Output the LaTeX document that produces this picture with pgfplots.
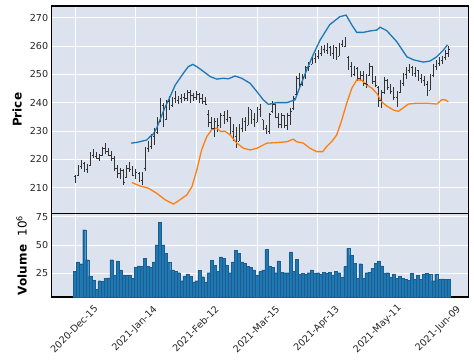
\documentclass[border=0pt]{standalone}
\usepackage{pgfplots}
\pgfplotsset{compat=1.18}
\usepackage{pgfplotstable}
\usepackage{fontspec}
\setmainfont{DejaVu Sans}
\definecolor{bgc}{HTML}{DCE3EF}
\definecolor{mblue}{HTML}{1F77B4}
\definecolor{morange}{HTML}{FF7F0E}
\definecolor{voledge}{HTML}{1A5E8E}
\pgfdeclareplotmark{otick}{\pgfpathmoveto{\pgfqpoint{-\pgfplotmarksize}{0pt}}\pgfpathlineto{\pgfqpoint{0pt}{0pt}}\pgfusepathqstroke}
\pgfdeclareplotmark{ctick}{\pgfpathmoveto{\pgfqpoint{0pt}{0pt}}\pgfpathlineto{\pgfqpoint{\pgfplotmarksize}{0pt}}\pgfusepathqstroke}

\pgfplotstableread{
i o h l c
0 214.0 214.5 211.5 212.5
1 214.5 218.0 214.0 217.5
2 217.5 219.8 216.5 218.5
3 218.5 219.0 215.5 216.5
4 216.5 218.5 215.0 218.0
5 218.0 222.5 217.5 222.0
6 221.5 223.5 220.5 221.0
7 221.0 222.5 220.0 220.5
8 220.5 222.0 219.5 221.5
9 221.5 224.5 221.0 224.0
10 224.0 225.8 222.0 223.0
11 223.0 224.0 221.0 221.5
12 221.5 223.0 219.5 220.5
13 220.5 221.0 216.0 217.0
14 217.0 218.0 213.5 215.0
15 215.0 217.0 213.0 216.0
16 216.0 216.5 211.0 212.0
17 213.5 218.0 213.5 217.0
18 217.0 219.0 215.5 216.5
19 216.5 217.5 214.0 214.5
20 214.5 216.5 213.0 215.5
21 215.0 215.5 212.0 212.5
22 212.5 215.5 211.0 215.0
23 217.0 224.5 216.0 224.0
24 224.0 226.5 222.5 224.5
25 224.5 229.0 223.5 228.0
26 228.0 231.0 225.0 229.5
27 229.5 235.0 229.0 233.5
28 233.5 241.5 233.0 239.0
29 239.0 240.0 231.5 234.0
30 234.0 241.0 234.0 240.5
31 240.5 242.5 237.5 239.0
32 239.0 242.0 238.5 241.5
33 241.5 244.0 240.0 241.0
34 241.0 242.5 239.5 241.5
35 241.5 243.0 240.0 242.0
36 242.0 243.5 240.5 241.5
37 241.5 244.5 240.5 243.5
38 243.5 244.5 240.0 242.5
39 242.5 243.5 240.5 242.0
40 242.0 244.0 241.0 243.0
41 243.0 243.5 240.0 241.5
42 241.5 243.0 239.5 240.5
43 240.5 242.0 239.0 239.5
44 236.0 237.5 231.5 233.0
45 233.0 235.0 230.0 231.0
46 231.0 234.5 228.0 233.5
47 233.5 234.5 229.5 232.0
48 232.0 236.5 231.0 235.5
49 235.5 237.0 232.5 234.0
50 234.0 237.5 233.0 236.5
51 235.0 235.0 228.5 230.0
52 230.0 232.5 226.5 228.0
53 228.0 231.5 224.0 226.5
54 226.5 232.5 226.5 231.0
55 231.0 234.5 229.5 233.5
56 233.5 235.0 230.0 232.0
57 232.0 238.5 233.0 237.5
58 237.5 237.5 232.5 234.0
59 234.0 236.5 231.5 233.0
60 233.0 238.5 233.5 237.5
61 237.5 239.5 235.0 236.0
62 234.0 234.0 230.5 231.0
63 231.0 232.0 229.0 230.0
64 230.0 236.5 229.0 236.0
65 237.0 240.5 236.5 239.5
66 239.5 239.5 234.5 235.0
67 235.0 236.5 231.0 232.5
68 232.5 236.5 231.0 235.5
69 235.5 235.5 231.0 232.0
70 232.0 236.5 230.5 235.5
71 235.5 238.0 232.0 237.0
72 238.0 242.5 237.5 241.5
73 243.0 249.5 242.5 248.5
74 248.5 250.5 245.5 246.5
75 246.5 250.0 246.0 249.0
76 249.0 253.0 248.5 252.5
77 252.5 254.5 251.0 253.0
78 253.5 256.5 253.5 255.5
79 255.5 257.5 254.0 256.5
80 256.5 258.5 255.5 257.5
81 257.5 260.0 256.5 259.0
82 259.0 260.5 257.5 258.5
83 258.5 261.0 257.0 259.5
84 259.5 260.0 256.5 257.5
85 257.5 260.5 255.5 259.5
86 259.5 259.5 255.0 256.0
87 256.5 261.0 256.5 260.5
88 260.5 262.0 259.5 260.0
89 260.0 263.0 259.5 262.5
90 256.0 256.5 251.5 253.0
91 253.0 254.5 249.0 250.0
92 250.0 253.0 249.5 252.0
93 252.0 252.5 247.5 248.5
94 248.5 251.0 248.0 249.5
95 249.5 251.0 246.0 247.0
96 247.0 250.0 245.0 246.5
97 249.5 254.0 249.5 253.0
98 253.0 253.0 246.5 247.5
99 247.5 249.5 245.5 246.0
100 245.5 246.0 238.5 241.0
101 241.0 244.5 238.0 243.5
102 243.5 249.0 243.0 248.0
103 248.0 248.5 244.5 245.5
104 245.5 246.5 243.0 244.0
105 244.0 245.5 241.0 242.0
106 242.0 244.0 238.5 243.5
107 243.5 248.0 243.5 247.0
108 247.0 250.5 246.0 250.0
109 250.0 252.5 248.5 251.5
110 251.5 253.5 250.5 252.5
111 252.5 253.0 249.5 250.5
112 250.5 252.5 249.0 251.5
113 251.5 251.5 247.5 248.5
114 248.5 250.0 247.0 248.0
115 248.0 249.5 246.0 246.5
116 246.5 247.5 242.5 244.0
117 244.5 250.0 244.5 249.5
118 249.5 253.5 249.0 253.0
119 253.0 255.0 251.5 254.0
120 254.0 256.0 253.0 255.0
121 255.0 256.5 253.5 256.0
122 256.0 258.5 255.0 257.5
123 257.5 260.0 256.0 259.0
}\ohlc

\pgfplotstableread{
i v
0 27
1 35
2 33.5
3 63.5
4 37
5 22.5
6 19
7 11
8 18.5
9 18
10 20.5
11 21
12 37
13 23.5
14 36
15 28
16 23.5
17 23.5
18 23.5
19 20.5
20 30
21 31.5
22 31
23 38
24 31
25 30.5
26 35
27 50
28 70
29 50
30 42.5
31 34.5
32 28
33 26.5
34 25.5
35 18.5
36 22.5
37 24.5
38 22.5
39 17.5
40 18.5
41 27.5
42 22
43 17.5
44 25.5
45 36.5
46 32
47 26.5
48 39.5
49 38.5
50 32
51 25.5
52 35
53 45.5
54 42.5
55 35
56 34
57 31
58 30.5
59 28
60 23
61 26.5
62 28
63 46
64 31.5
65 30
66 25.5
67 36
68 26
69 25.5
70 25.5
71 44
72 27
73 37.5
74 24
75 25
76 24.5
77 25.5
78 28
79 25
80 25.5
81 24.5
82 26
83 25
84 26
85 23.5
86 26.5
87 25.5
88 21.5
89 31
90 47
91 41
92 34
93 20.5
94 33.5
95 20.5
96 25.5
97 26
98 29.5
99 34
100 36
101 31.5
102 25
103 25.5
104 21.5
105 24.5
106 20.5
107 22.5
108 20.5
109 19.5
110 19
111 25
112 19.5
113 23
114 19.5
115 24.5
116 25
117 24
118 18.5
119 24.5
120 19.5
121 20
122 19.5
123 19.5
}\vol

\begin{document}
\begin{tikzpicture}
\useasboundingbox (0,0) rectangle (474pt,-364pt);
\pgfplotsset{common/.style={
  scale only axis, width=417pt, xmin=-7.7, xmax=129.7,
  axis background/.style={fill=bgc},
  grid=major, grid style={white, line width=0.9pt},
  axis line style={black, line width=1.1pt},
  major tick length=0pt,
  xtick={0,20,...,120},
  ticklabel style={font=\fontsize{9.6}{11}\selectfont, text=black!85},
  /pgf/number format/assume math mode=true,
  label style={font=\bfseries\fontsize{12}{14}\selectfont},
}}
\begin{axis}[common, at={(51.7pt,-6pt)}, anchor=north west, height=207.7pt,
  ymin=200.8, ymax=274.1, ytick={210,220,...,270}, xticklabels={},
  ylabel={Price}, ylabel style={at={(axis description cs:-0.083,0.5)}, anchor=center}]
\addplot[black!80, line width=0.55pt, mark=otick, mark size=1.2pt, only marks,
  mark options={solid, line width=0.55pt},
  error bars/.cd, y dir=both, y explicit, error mark=none,
  error bar style={black!80, line width=0.55pt}]
  table[x=i, y=o, y error plus expr=\thisrow{h}-\thisrow{o}, y error minus expr=\thisrow{o}-\thisrow{l}] {\ohlc};
\addplot[black!80, mark=ctick, mark size=1.2pt, only marks, mark options={solid, line width=0.55pt}]
  table[x=i, y=c] {\ohlc};
\addplot[mblue, line width=1.3pt, mark=none] coordinates {
(18.5,225.7) (20.5,226.0) (23.6,226.8) (24.7,228.0) (25.7,228.8) (26.9,231.0) (28.0,234.0) (29.5,238.0) (31.3,242.1) (33.0,246.2) (35.7,250.4) (37.3,252.7) (38.8,253.5) (40.1,252.7) (42.3,251.0) (44.5,249.2) (46.7,248.3) (48.9,248.6) (50.5,248.4) (52.7,249.4) (54.9,248.6) (57.7,246.8) (59.9,243.9) (62.0,241.0) (63.7,239.4) (66.5,240.0) (69.8,240.0) (72.5,241.0) (74.1,245.6) (76.3,251.5) (78.5,257.0) (80.7,262.0) (83.9,267.5) (87.2,270.3) (89.3,270.9) (91.2,267.4) (92.8,264.8) (95.0,264.8) (97.2,265.3) (99.4,265.6) (100.5,266.6) (102.7,265.4) (106.0,261.5) (109.3,256.2) (111.5,255.1) (114.8,254.3) (117.0,254.7) (119.2,256.2) (121.4,258.6) (122.7,260.4)
};
\addplot[morange, line width=1.3pt, mark=none] coordinates {
(18.7,211.8) (21.4,210.6) (24.2,209.8) (26.9,208.0) (29.7,205.7) (32.4,204.2) (34.0,205.3) (36.8,207.4) (38.5,210.3) (40.1,216.2) (41.7,223.3) (43.4,228.0) (45.0,230.4) (46.7,231.0) (48.0,229.8) (49.4,229.9) (51.1,228.6) (53.3,225.7) (55.5,223.9) (57.7,223.3) (59.9,223.9) (63.2,225.7) (66.5,225.9) (69.8,226.2) (71.9,227.1) (73.0,226.2) (75.2,225.7) (77.4,223.9) (79.6,222.7) (81.6,222.7) (82.9,224.5) (84.6,226.3) (86.2,228.6) (87.9,233.9) (89.5,239.8) (91.2,245.1) (92.8,248.0) (94.5,247.9) (96.1,246.2) (97.8,245.1) (99.4,243.3) (101.0,240.3) (102.7,238.8) (104.9,237.4) (106.5,236.9) (108.2,238.2) (109.8,239.5) (112.6,239.8) (115.9,239.8) (119.2,239.5) (120.8,241.0) (121.9,241.0) (123.0,240.3)
};
\end{axis}
\begin{axis}[common, at={(51.7pt,-213.7pt)}, anchor=north west, height=83.3pt,
  ymin=4.1, ymax=77.6, ytick={25,50,75},
  xticklabels={2020-Dec-15,2021-Jan-14,2021-Feb-12,2021-Mar-15,2021-Apr-13,2021-May-11,2021-Jun-09},
  xticklabel style={yshift=-32pt, xshift=-1pt, rotate=45, anchor=center},
  ylabel={Volume\ \ \mdseries 10\textsuperscript{6}}, ylabel style={at={(axis description cs:-0.072,0.5)}, anchor=center}]
\addplot[ybar, bar width=1, fill=mblue, draw=voledge, line width=0.3pt] table[x=i, y=v] {\vol};
\end{axis}
\end{tikzpicture}
\end{document}
